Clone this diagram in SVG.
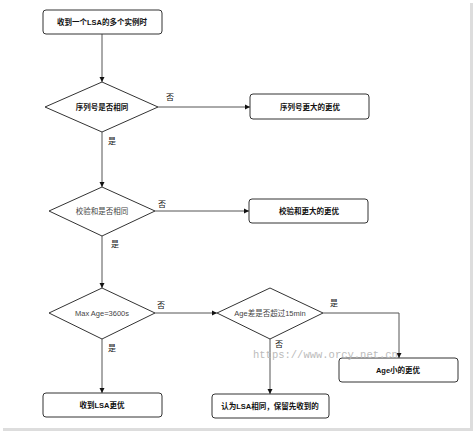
<svg xmlns="http://www.w3.org/2000/svg" width="474" height="431" viewBox="0 0 474 431">
<style>
.box{fill:#fff;stroke:#333;stroke-width:1}
.dia{fill:#fff;stroke:#333;stroke-width:1}
.t{font-family:"Liberation Sans","Noto Sans CJK SC",sans-serif;font-size:7.5px;fill:#111;text-anchor:middle;dominant-baseline:central}
.b{font-weight:bold}
.n{fill:#444}
.lbl{font-family:"Liberation Sans","Noto Sans CJK SC",sans-serif;font-size:8px;fill:#111;text-anchor:middle;dominant-baseline:central}
.ln{fill:none;stroke:#555;stroke-width:1}
.wm{font-family:"Liberation Mono","DejaVu Sans Mono",monospace;font-size:10.5px;fill:#bbb}
</style>
<defs>
<marker id="arr" markerWidth="6" markerHeight="6" refX="5" refY="3" orient="auto" markerUnits="userSpaceOnUse">
<path d="M0,0.5 L5,3 L0,5.5 Z" fill="#111"/>
</marker>
</defs>
<rect x="3" y="3" width="470" height="428" fill="#ddd"/>
<rect x="0" y="0" width="470" height="428" fill="#fff"/>

<g id="connectors">
<path class="ln" d="M102,34 V82" marker-end="url(#arr)"/>
<path class="ln" d="M158,107 H250" marker-end="url(#arr)"/>
<path class="ln" d="M102,132 V187" marker-end="url(#arr)"/>
<path class="ln" d="M155,211 H249" marker-end="url(#arr)"/>
<path class="ln" d="M102,236 V288" marker-end="url(#arr)"/>
<path class="ln" d="M155,313 H217" marker-end="url(#arr)"/>
<path class="ln" d="M323,313 H399 V358" marker-end="url(#arr)"/>
<path class="ln" d="M270,339 V394" marker-end="url(#arr)"/>
<path class="ln" d="M102,339 V393" marker-end="url(#arr)"/>
<text class="lbl" x="170" y="97">否</text>
<text class="lbl" x="112" y="141">是</text>
<text class="lbl" x="162" y="204">否</text>
<text class="lbl" x="115" y="244">是</text>
<text class="lbl" x="161" y="305">否</text>
<text class="lbl" x="112" y="348">是</text>
<text class="lbl" x="334" y="303">是</text>
<text class="lbl" x="279" y="344">否</text>
</g>

<g id="n1">
<rect class="box" x="43" y="10" width="119" height="24" rx="3"/>
<text class="t b" x="102" y="22">收到一个LSA的多个实例时</text>
</g>
<g id="d1">
<polygon class="dia" points="102,82 158,107 102,132 45,107"/>
<text class="t b" x="102" y="107">序列号是否相同</text>
</g>
<g id="n2">
<rect class="box" x="250" y="94" width="119" height="25" rx="3"/>
<text class="t b" x="310" y="107">序列号更大的更优</text>
</g>
<g id="d2">
<polygon class="dia" points="102,187 155,211 102,236 49,211"/>
<text class="t n" x="102" y="211">校验和是否相同</text>
</g>
<g id="n3">
<rect class="box" x="249" y="199" width="119" height="24" rx="3"/>
<text class="t b" x="309" y="211">校验和更大的更优</text>
</g>
<g id="d3">
<polygon class="dia" points="102,288 155,313 102,339 49,313"/>
<text class="t n" x="102" y="313">Max Age=3600s</text>
</g>
<g id="d4">
<polygon class="dia" points="270,288 323,313 270,339 217,313"/>
<text class="t n" x="270" y="313">Age差是否超过15min</text>
</g>
<g id="n5">
<rect class="box" x="339" y="358" width="119" height="24" rx="3"/>
<text class="t b" x="398" y="370">Age小的更优</text>
</g>
<g id="n6">
<rect class="box" x="212" y="394" width="117" height="24" rx="3"/>
<text class="t b" x="270" y="406">认为LSA相同，保留先收到的</text>
</g>
<g id="n4">
<rect class="box" x="43" y="393" width="119" height="24" rx="3"/>
<text class="t b" x="102" y="405">收到LSA更优</text>
</g>
<text class="wm" x="253" y="358">https://www.orcy.net.cn</text>
</svg>
